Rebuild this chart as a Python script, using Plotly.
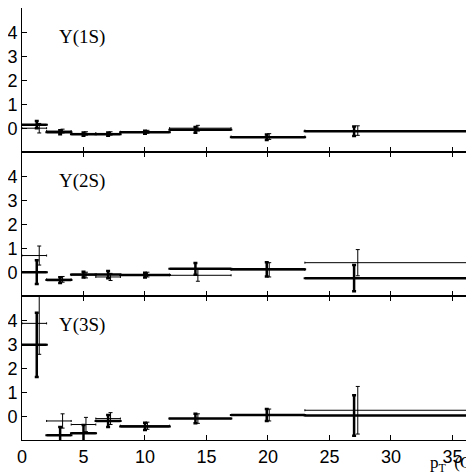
import plotly.graph_objects as go
from plotly.subplots import make_subplots

# ---- data: bin edges, centres and values (thick = set A, thin = set B)
bin_lo = [0, 2, 4, 6, 8, 12, 17, 23]
bin_hi = [2, 4, 6, 8, 12, 17, 23, 40]
x_a = [1.2, 3.1, 5.0, 7.0, 10.0, 14.1, 19.9, 27.0]
x_b = [1.4, 3.3, 5.2, 7.2, 10.2, 14.3, 20.1, 27.3]

y1s_a = [0.15, -0.17, -0.25, -0.25, -0.17, -0.07, -0.38, -0.13]
e1s_a = [0.15, 0.08, 0.07, 0.07, 0.06, 0.12, 0.12, 0.2]
y1s_b = [0.0, -0.12, -0.22, -0.22, -0.15, 0.0, -0.35, -0.1]
e1s_b = [0.2, 0.08, 0.07, 0.07, 0.06, 0.12, 0.12, 0.2]

y2s_a = [0.0, -0.33, -0.1, -0.1, -0.12, 0.14, 0.12, -0.25]
e2s_a = [0.5, 0.12, 0.12, 0.15, 0.1, 0.25, 0.3, 0.55]
y2s_b = [0.7, -0.3, -0.12, -0.2, -0.1, -0.13, 0.1, 0.4]
e2s_b = [0.4, 0.12, 0.12, 0.15, 0.1, 0.25, 0.3, 0.55]

y3s_a = [3.0, -0.8, -0.72, -0.2, -0.43, -0.1, 0.05, 0.03]
e3s_a = [1.35, 0.35, 0.35, 0.25, 0.15, 0.2, 0.25, 0.85]
y3s_b = [3.9, -0.2, -0.35, -0.1, -0.4, -0.1, 0.05, 0.25]
e3s_b = [1.3, 0.3, 0.3, 0.25, 0.15, 0.2, 0.25, 1.0]

labels = ["Υ(1S)", "Υ(2S)", "Υ(3S)"]
panels = [(y1s_a, e1s_a, y1s_b, e1s_b),
          (y2s_a, e2s_a, y2s_b, e2s_b),
          (y3s_a, e3s_a, y3s_b, e3s_b)]

fig = make_subplots(rows=3, cols=1, shared_xaxes=True, vertical_spacing=0)


def add_set(x, y, e, width, row):
    fig.add_trace(go.Scatter(
        x=x, y=y, mode="markers", marker=dict(size=1, color="black"),
        error_x=dict(type="data", symmetric=False,
                     array=[h - c for h, c in zip(bin_hi, x)],
                     arrayminus=[c - lo for lo, c in zip(bin_lo, x)],
                     color="black", thickness=width, width=1),
        error_y=dict(type="data", array=e, color="black",
                     thickness=width, width=2),
        showlegend=False), row=row, col=1)


for i, (ya, ea, yb, eb) in enumerate(panels):
    row = i + 1
    add_set(x_b, yb, eb, 1, row)
    add_set(x_a, ya, ea, 2.5, row)
    fig.add_annotation(x=4.9, y=3.85, text=labels[i], showarrow=False,
                       font=dict(family="Liberation Serif", size=19, color="black"),
                       xref="x", yref="y%d" % row if row > 1 else "y")

axis_style = dict(showline=True, linecolor="black", linewidth=1,
                  ticks="inside", ticklen=5, tickcolor="black",
                  showgrid=False, zeroline=False, automargin=False,
                  tickfont=dict(family="Liberation Sans", size=18, color="black"))

fig.update_xaxes(range=[0, 37.4], dtick=5, **axis_style)
fig.update_xaxes(mirror="ticks", row=3, col=1)
fig.update_xaxes(mirror="ticks", row=2, col=1)
fig.update_yaxes(range=[-1.0, 5.05], tickvals=[0, 1, 2, 3, 4], **axis_style)

fig.add_annotation(x=0.883, y=-0.085, xref="paper", yref="paper",
                   xanchor="left", showarrow=False,
                   text="p<sub>T</sub>  (GeV/c)",
                   font=dict(family="Liberation Serif", size=17, color="black"))

fig.update_layout(width=474, height=474, plot_bgcolor="white",
                  paper_bgcolor="white",
                  margin=dict(l=14, r=0, t=0, b=42))

fig.write_html("out.html")
